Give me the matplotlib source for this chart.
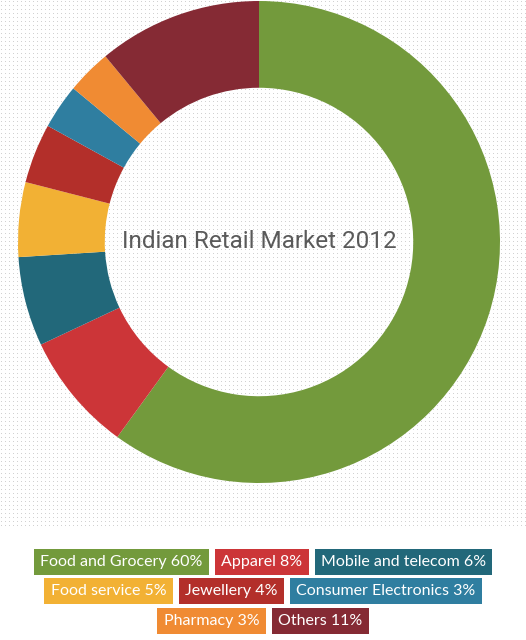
import numpy as np
import matplotlib.pyplot as plt

labels = ['Food and Grocery', 'Apparel', 'Mobile and telecom', 'Food service',
          'Jewellery', 'Consumer Electronics', 'Pharmacy', 'Others']
shares = [60, 8, 6, 5, 4, 3, 3, 11]
colors = ['#739a3c', '#cc3538', '#22687a', '#f2b134',
          '#b32f2a', '#2f7ea0', '#f08b33', '#852a34']
title = 'Indian Retail Market 2012'

W, H = 526, 640
fig = plt.figure(figsize=(W / 100, H / 100), dpi=100)
fig.patch.set_facecolor('white')

# dotted backdrop behind the donut
bg_h = 527
bg = fig.add_axes([0, 1 - bg_h / H, 1, bg_h / H])
pat = np.ones((bg_h, W, 3))
pat[1::4, 1::4] = 0.82
bg.imshow(pat, interpolation='nearest', aspect='auto')
bg.axis('off')

# donut
cx, cy, r = 259, 242, 241
ax = fig.add_axes([(cx - r) / W, (H - cy - r) / H, 2 * r / W, 2 * r / H])
ax.pie(shares, colors=colors, startangle=90, counterclock=False,
       wedgeprops=dict(width=0.36, linewidth=0))
ax.set_xlim(-1, 1)
ax.set_ylim(-1, 1)
ax.patch.set_alpha(0)
ax.text(0, 0, title, ha='center', va='center', fontsize=17.5,
        family=['Roboto', 'DejaVu Sans'], color='#5a5a5a')

# legend boxes, laid out in centred rows
rows = [[0, 1, 2], [3, 4, 5], [6, 7]]
row_y = [562, 591, 621]
gap = 6
renderer = fig.canvas.get_renderer()
for row, y in zip(rows, row_y):
    texts = []
    for i in row:
        t = fig.text(0, 1 - y / H, f'{labels[i]} {shares[i]}%', ha='left', va='center',
                     fontsize=11.5, color='white',
                     family=['Lato', 'DejaVu Sans'],
                     bbox=dict(boxstyle='square,pad=0.4', fc=colors[i], ec='none'))
        texts.append(t)
    fig.canvas.draw()
    widths = [t.get_bbox_patch().get_window_extent(renderer).width for t in texts]
    total = sum(widths) + gap * (len(widths) - 1)
    x = (W - total) / 2
    for t, w in zip(texts, widths):
        pad = (w - t.get_window_extent(renderer).width) / 2
        t.set_x((x + pad) / W)
        x += w + gap

fig.savefig('out.png', dpi=100)
